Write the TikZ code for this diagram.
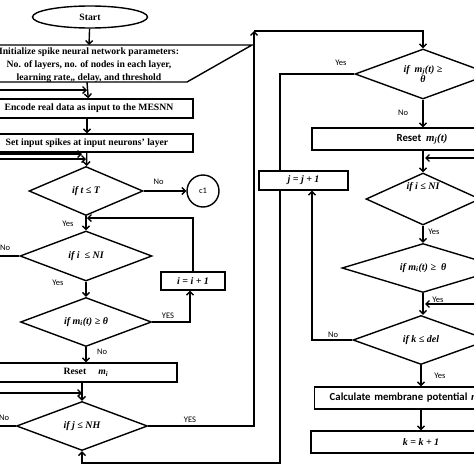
\documentclass[tikz,border=0pt]{standalone}
\usepackage{fontspec}
\setmainfont{Liberation Serif}
\newfontfamily\labelfont{Carlito}
\usetikzlibrary{shapes.geometric,arrows.meta}

\begin{document}
\begin{tikzpicture}[
    x=1pt, y=-1pt,
    line width=1.4pt,
    every node/.style={inner sep=1pt, font=\bfseries\fontsize{9.7}{13}\selectfont},
    box/.style={draw, rectangle, minimum height=#1, inner sep=0pt},
    decision/.style={draw, diamond, shape aspect=2.7, inner sep=0pt, formula},
    formula/.style={font=\bfseries\itshape\fontsize{10}{12}\selectfont},
    sansbox/.style={font=\bfseries\labelfont\fontsize{10.8}{12}\selectfont},
    lbl/.style={font=\labelfont\fontsize{8.5}{10}\selectfont},
    arr/.style={-{Straight Barb[length=3.5pt,width=7pt]}}
]
    \useasboundingbox (0,0) rectangle (474,474);
    \clip (0,0) rectangle (474,474);

    % left column
    \node[draw, ellipse, minimum width=115, minimum height=22] (start) at (90,17) {Start};
    \draw (-30,45) -- (252,45) -- (187,82) -- (-30,82);
    \node[align=center] (init) at (89,65) {Initialize spike neural network parameters:\\
        No. of layers, no. of nodes in each layer,\\
        learning rate,, delay,  and threshold};
    \coordinate (initTop) at (89,45);
    \coordinate (initBot) at (87,82);
    \node[box=19, minimum width=208] (encode) at (89,108.5) {Encode real data as input to the MESNN};
    \node[box=18, minimum width=212] (setin) at (87,143) {Set input spikes at input neurons' layer};
    \node[decision, minimum width=114, minimum height=49] (dt) at (86,191) {if t ≤ T};
    \node[draw, circle, minimum size=32, inner sep=0pt, lbl] (c1) at (203,191) {c1};
    \node[decision, minimum width=132, minimum height=50] (dni) at (86,256) {if i \ ≤ NI};
    \node[box=18, minimum width=64, formula] (inci) at (193,281) {i = i + 1};
    \node[decision, minimum width=131, minimum height=49] (dmi) at (86,322) {if m\textsubscript{i}(t) ≥ θ};
    \node[box=19, minimum width=182] (reset) at (86,372.5) {Reset \quad {\itshape m\textsubscript{i}}};
    \node[decision, minimum width=131, minimum height=49] (dnh) at (82,426) {if j ≤ NH};

    \coordinate (inA) at (-5,90);
    \coordinate (inB) at (-5,154);
    \coordinate (inC) at (-5,159);
    \coordinate (inD) at (-5,393);
    \coordinate (outI) at (-5,256);
    \coordinate (outJ) at (-5,426);
    \coordinate (backI) at (87,218);
    \coordinate (yesI) at (190,322);
    \coordinate (jtop) at (254,31);
    \coordinate (jloop) at (280,463);
    \coordinate (kloop) at (312,340);

    \draw[arr] (start) -- (initTop);
    \draw[arr] (initBot) -- (encode);
    \draw[arr] (inA) -- (inA -| initBot);
    \draw[arr] (encode.south -| initBot) -- (setin.north -| initBot);
    \draw[arr] (setin) -- (dt);
    \draw[arr] (inB) -- ([xshift=-4]inB -| dt.north);
    \draw[arr] (inC) -- (inC -| dt.north);
    \draw[arr] (dt) -- node[lbl, above=5pt, pos=0.35] {No} (c1);
    \draw[arr] (dt) -- (dni);
    \node[lbl] at (68,224) {Yes};
    \draw[arr] (inci) |- (backI);
    \draw (dni) -- (outI);
    \node[lbl] at (5,248) {No};
    \draw[arr] (dni) -- (dmi);
    \node[lbl] at (58,283) {Yes};
    \draw[arr] (dmi.east) -- (yesI) -- (yesI |- inci.south);
    \node[lbl] at (168,316) {YES};
    \draw[arr] (dmi) -- (dmi |- reset.north);
    \node[lbl] at (102,352) {No};
    \draw[arr] (reset.south -| dnh) -- (dnh);
    \draw[arr] (inD) -- (inD -| dnh);
    \draw (dnh) -- (outJ);
    \node[lbl] at (4,418) {No};
    \draw[arr] (dnh.east) -| (jtop);
    \node[lbl] at (190,420) {YES};

    % right column
    \node[decision, minimum width=136, minimum height=50, align=center] (dmj) at (423,74)
        {if \ m\textsubscript{j}(t) ≥\\[-2pt]θ};
    \node[box=19, minimum width=89, formula] (incj) at (303.5,180.5) {j = j + 1};
    \node[box=22, minimum width=220, sansbox] (resetj) at (422,139)
        {Reset \ {\rmfamily\itshape m\textsubscript{j}(t)}};
    \node[decision, minimum width=114, minimum height=52,
        label={[yshift=12pt, formula]center:if i ≤ NI}] (dni2) at (423,199) {};
    \node[decision, minimum width=162, minimum height=49] (dmi2) at (423,268) {if m\textsubscript{i}(t) ≥ \ θ};
    \node[decision, minimum width=136, minimum height=49] (dk) at (421,340) {if k ≤ del};
    \node[box=22, anchor=west, text width=190, align=left, inner xsep=15pt, sansbox] (calc) at (314,398)
        {Calculate membrane potential {\rmfamily\itshape m\textsubscript{j}(t)}};
    \node[box=22, minimum width=220, formula] (kinc) at (421,442) {k = k + 1};

    \coordinate (inE) at (480,158);
    \coordinate (inF) at (480,304);

    \draw[arr] (jtop) -| (dmj);
    \draw (dmj.west) -| (incj.north -| jloop);
    \node[lbl] at (341,63) {Yes};
    \draw[arr] (incj.south -| jloop) -- (jloop) -| (dnh.south);
    \draw[arr] (dmj) -- (dmj |- resetj.north);
    \node[lbl] at (403,113) {No};
    \draw[arr] (resetj.south -| dni2) -- (dni2);
    \draw[arr] (inE) -- ([xshift=2]inE -| dni2.north);
    \draw[arr] (dni2) -- (dmi2);
    \node[lbl] at (434,232) {Yes};
    \draw[arr] (dmi2.south) -- (dmi2.south |- dk.north);
    \draw[arr] (inF) -- ([xshift=2]inF -| dmi2.south);
    \node[lbl] at (438,300) {Yes};
    \draw[arr] (dk.west) -- (kloop) -- (kloop |- incj.south);
    \node[lbl] at (333,335) {No};
    \draw[arr] (dk) -- (dk.south |- calc.north);
    \node[lbl] at (440,376) {Yes};
    \draw[arr] (calc.south -| dk.south) -- (kinc);
\end{tikzpicture}
\end{document}
